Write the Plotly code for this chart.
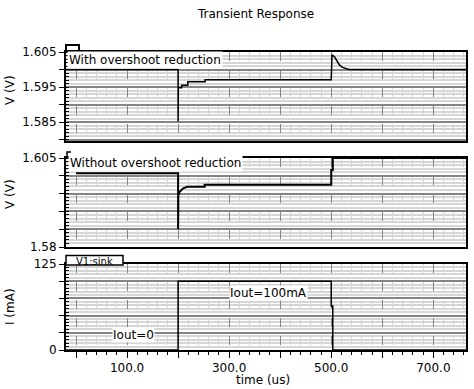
import plotly.graph_objects as go

# ---------------- data ----------------
t_with = [-20, 200, 200, 200.5, 207, 207, 219, 219, 253, 253, 500, 501.5, 507, 516, 522, 535, 765]
v_with = [1.600, 1.600, 1.5852, 1.5948, 1.5948, 1.5955, 1.5955, 1.5965, 1.5965, 1.5971, 1.5971,
          1.6042, 1.6035, 1.6013, 1.6006, 1.600, 1.600]

t_without = [0, 200, 200, 200.5, 203, 210, 218, 252, 252, 500, 500, 503, 503, 765]
v_without = [1.6007, 1.6007, 1.585, 1.5946, 1.5955, 1.5965, 1.5969, 1.5969, 1.5975, 1.5975,
             1.6016, 1.6016, 1.605, 1.605]

t_sink = [-20, 200, 200, 500, 500, 503, 503, 765]
i_sink = [0, 0, 100, 100, 64, 64, 0, 0]

x_tickvals = [0, 100, 200, 300, 400, 500, 600, 700]
x_ticktext = ["", "100.0", "", "300.0", "", "500.0", "", "700.0"]
y1_tickvals = [1.580, 1.585, 1.590, 1.595, 1.600, 1.605]
y1_ticktext = ["", "1.585", "", "1.595", "", "1.605"]
y2_tickvals = [1.580, 1.585, 1.590, 1.595, 1.600, 1.605]
y2_ticktext = ["1.58", "", "", "", "", "1.605"]
y3_tickvals = [0, 25, 50, 75, 100, 125]
y3_ticktext = ["0", "", "", "", "", "125"]

title_text = "Transient Response"
label1 = "With overshoot reduction"
label2 = "Without overshoot reduction"
label3 = "V1:sink"
ytitle_v = "V (V)"
ytitle_i = "I (mA)"
xtitle = "time (us)"

# ---------------- layout helpers ----------------
W, H = 474, 389
ML, MR, MT, MB = 66, 8, 52, 39
PW, PH = W - ML - MR, H - MT - MB


def px(x):
    return (x - ML) / PW


def py(y):
    return (H - MB - y) / PH


FONT = "DejaVu Sans"
fig = go.Figure()
fig.add_trace(go.Scatter(x=t_with, y=v_with, mode="lines", line=dict(color="black", width=1.5),
                         xaxis="x", yaxis="y", showlegend=False, hoverinfo="skip"))
fig.add_trace(go.Scatter(x=t_without, y=v_without, mode="lines", line=dict(color="black", width=2),
                         xaxis="x2", yaxis="y2", showlegend=False, hoverinfo="skip"))
fig.add_trace(go.Scatter(x=t_sink, y=i_sink, mode="lines", line=dict(color="black", width=1.5),
                         xaxis="x3", yaxis="y3", showlegend=False, hoverinfo="skip"))

xr = [-19.6, 764]
MAJ = "#858585"
MIN = "#d6d6d6"
xcommon = dict(range=xr, tickvals=x_tickvals, showgrid=True, gridcolor=MAJ, griddash="dash",
               gridwidth=1, showline=True, linecolor="black", linewidth=2, mirror=True,
               zeroline=False, fixedrange=True, automargin=False)
xminor_plain = dict(dtick=20, tick0=0, showgrid=True, gridcolor=MIN, gridwidth=1)
xminor_ticks = dict(dtick=20, tick0=0, showgrid=True, gridcolor=MIN, gridwidth=1,
                    ticks="outside", ticklen=3, tickcolor="black")
ycommon = dict(showgrid=True, gridcolor=MAJ, gridwidth=1.5, showline=True, linecolor="black",
               linewidth=2, mirror=True, zeroline=False, ticks="outside", ticklen=5, tickwidth=1,
               tickcolor="black", fixedrange=True, automargin=False,
               tickfont=dict(family=FONT, size=12, color="black"))

fig.update_layout(
    width=W, height=H, margin=dict(l=ML, r=MR, t=MT, b=MB),
    paper_bgcolor="white", plot_bgcolor="white",
    font=dict(family=FONT, size=12, color="black"),
    xaxis=dict(**xcommon, domain=[0, 1], anchor="y", showticklabels=False, ticks="",
               minor=xminor_plain),
    xaxis2=dict(**xcommon, domain=[0, 1], anchor="y2", showticklabels=False, ticks="",
                minor=xminor_plain),
    xaxis3=dict(**xcommon, domain=[0, 1], anchor="y3", ticktext=x_ticktext, ticks="outside",
                ticklen=6, tickcolor="black", minor=xminor_ticks,
                tickfont=dict(family=FONT, size=12, color="black")),
    yaxis=dict(**ycommon, domain=[py(141), 1], range=[1.5796, 1.605], tickvals=y1_tickvals,
               ticktext=y1_ticktext,
               minor=dict(dtick=0.001, tick0=1.58, showgrid=True, gridcolor=MIN,
                          ticks="inside", ticklen=3, tickcolor="black")),
    yaxis2=dict(**ycommon, domain=[py(247), py(158)], range=[1.58, 1.605], tickvals=y2_tickvals,
                ticktext=y2_ticktext,
                minor=dict(dtick=0.001, tick0=1.58, showgrid=True, gridcolor=MIN,
                           ticks="inside", ticklen=3, tickcolor="black")),
    yaxis3=dict(**ycommon, domain=[0, py(264)], range=[0, 125], tickvals=y3_tickvals,
                ticktext=y3_ticktext,
                minor=dict(dtick=5, tick0=0, showgrid=True, gridcolor=MIN,
                           ticks="inside", ticklen=3, tickcolor="black")),
)

shapes = [
    dict(type="path", xref="paper", yref="paper",
         path=f"M {px(66)},{py(52)} L {px(66)},{py(45)} L {px(79)},{py(45)} L {px(79)},{py(52)}",
         line=dict(color="black", width=2)),
    dict(type="path", xref="paper", yref="paper",
         path=f"M {px(67)},{py(158)} L {px(67)},{py(152)} L {px(71)},{py(152)}",
         line=dict(color="black", width=1.5)),
    dict(type="rect", xref="paper", yref="paper", x0=px(66), x1=px(123), y0=py(265), y1=py(255.5),
         fillcolor="white", line=dict(color="black", width=1.5), layer="above"),
]
fig.update_layout(shapes=shapes)

ann = [
    dict(text=title_text, x=px(255), y=py(14), xref="paper", yref="paper", showarrow=False,
         xanchor="center", yanchor="middle", font=dict(size=12)),
    dict(text=label1, x=px(67), y=py(60), xref="paper", yref="paper", showarrow=False,
         xanchor="left", yanchor="middle", bgcolor="white", borderpad=1, font=dict(size=12)),
    dict(text=label2, x=px(68), y=py(163), xref="paper", yref="paper", showarrow=False,
         xanchor="left", yanchor="middle", bgcolor="white", borderpad=1, font=dict(size=12)),
    dict(text=label3, x=px(94.5), y=py(261.5), xref="paper", yref="paper", showarrow=False,
         xanchor="center", yanchor="middle", font=dict(size=10)),
    dict(text="Iout=100mA", x=378, y=82.8, xref="x3", yref="y3", showarrow=False,
         xanchor="center", yanchor="middle", bgcolor="white", borderpad=0, font=dict(size=12)),
    dict(text="Iout=0", x=111.7, y=21.8, xref="x3", yref="y3", showarrow=False,
         xanchor="center", yanchor="middle", bgcolor="white", borderpad=0, font=dict(size=12)),
    dict(text=ytitle_v, x=px(10), y=py(90), xref="paper", yref="paper", showarrow=False,
         textangle=-90, xanchor="center", yanchor="middle", font=dict(size=12)),
    dict(text=ytitle_v, x=px(10), y=py(194), xref="paper", yref="paper", showarrow=False,
         textangle=-90, xanchor="center", yanchor="middle", font=dict(size=12)),
    dict(text=ytitle_i, x=px(10), y=py(306), xref="paper", yref="paper", showarrow=False,
         textangle=-90, xanchor="center", yanchor="middle", font=dict(size=12)),
    dict(text=xtitle, x=px(263), y=py(380), xref="paper", yref="paper", showarrow=False,
         xanchor="center", yanchor="middle", font=dict(size=12)),
]
fig.update_layout(annotations=ann)

fig.write_html("out.html", config={"displayModeBar": False},
               post_script="document.body.style.margin='0px';")
